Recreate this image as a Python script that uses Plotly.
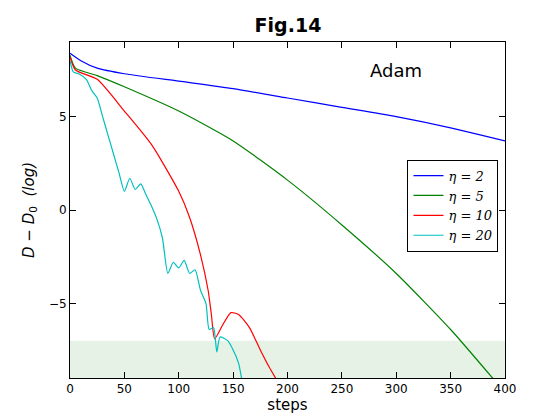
import plotly.graph_objects as go

# values
blue_x = [0, 10, 25, 50, 100, 150, 200, 250, 300, 350, 400]
blue_y = [8.4, 8.0, 7.6, 7.3, 6.9, 6.5, 6.0, 5.5, 5.0, 4.4, 3.7]

green_x = [0, 5, 25, 50, 100, 150, 200, 250, 300, 350, 390]
green_y = [8.3, 7.6, 7.2, 6.6, 5.3, 3.7, 1.6, -0.8, -3.4, -6.4, -9.1]

red_x = [0, 5, 25, 50, 75, 100, 110, 120, 127, 130, 133, 140, 148, 155, 165, 175, 183, 190]
red_y = [8.2, 7.5, 7.0, 5.3, 3.5, 1.0, -0.4, -2.4, -4.3, -5.6, -6.9, -6.2, -5.5, -5.6, -6.3, -7.5, -8.4, -9.1]

cyan_x = [0, 3, 8, 15, 20, 25, 30, 35, 40, 45, 50, 55, 60, 65, 70, 75, 80, 85, 90,
          95, 100, 105, 110, 115, 120, 125, 128, 132, 135, 138, 145, 150, 155, 158]
cyan_y = [8.0, 7.4, 7.3, 7.0, 6.4, 6.0, 5.0, 4.0, 3.0, 2.0, 1.0, 1.7, 1.1, 1.4, 0.8,
          0.2, -0.5, -1.5, -3.4, -2.8, -3.1, -2.7, -3.4, -3.2, -4.3, -5.0, -6.4, -6.3,
          -7.6, -6.8, -7.0, -7.5, -8.2, -9.1]

series = [
    ("η = 2", blue_x, blue_y, "#0000ff"),
    ("η = 5", green_x, green_y, "#008000"),
    ("η = 10", red_x, red_y, "#ff0000"),
    ("η = 20", cyan_x, cyan_y, "#00bfbf"),
]

fig = go.Figure()
for name, xs, ys, color in series:
    fig.add_trace(go.Scatter(x=xs, y=ys, mode="lines", name=f"<i>{name}</i>",
                             line=dict(color=color, width=1.2, shape="spline", smoothing=0.6)))

# shaded band below -7
fig.add_hrect(y0=-9, y1=-7, fillcolor="rgba(0,128,0,0.1)", line_width=0, layer="below")

fig.add_annotation(x=300, y=7.5, text="Adam", showarrow=False, font=dict(size=18, color="black"))

axis_style = dict(showgrid=False, zeroline=False, mirror="ticks", ticks="inside",
                  showline=True, linecolor="black", linewidth=1, tickcolor="black",
                  ticklen=6, tickfont=dict(size=12, color="black"), automargin=False)

# page adds ~8px offset, so margins are shifted to compensate
fig.update_layout(
    width=560, height=420,
    margin=dict(l=62, r=63, t=34, b=50, autoexpand=False),
    plot_bgcolor="white", paper_bgcolor="white",
    font=dict(family="DejaVu Sans", color="black"),
    title=dict(text="<b>Fig.14</b>", x=0.5, xanchor="center", y=0.975, font=dict(size=19)),
    xaxis=dict(range=[0, 400], dtick=50, title=dict(text="steps", font=dict(size=15), standoff=2), **axis_style),
    yaxis=dict(range=[-9, 9], tickvals=[-5, 0, 5],
               title=dict(text="<i>D − D</i><sub>0</sub>  <i>(log)</i>", font=dict(size=15), standoff=10),
               **axis_style),
    legend=dict(x=0.985, y=0.65, xanchor="right", yanchor="top", bgcolor="white",
                bordercolor="black", borderwidth=1, font=dict(size=13, family="DejaVu Serif")),
)

fig.write_html("out.html")
